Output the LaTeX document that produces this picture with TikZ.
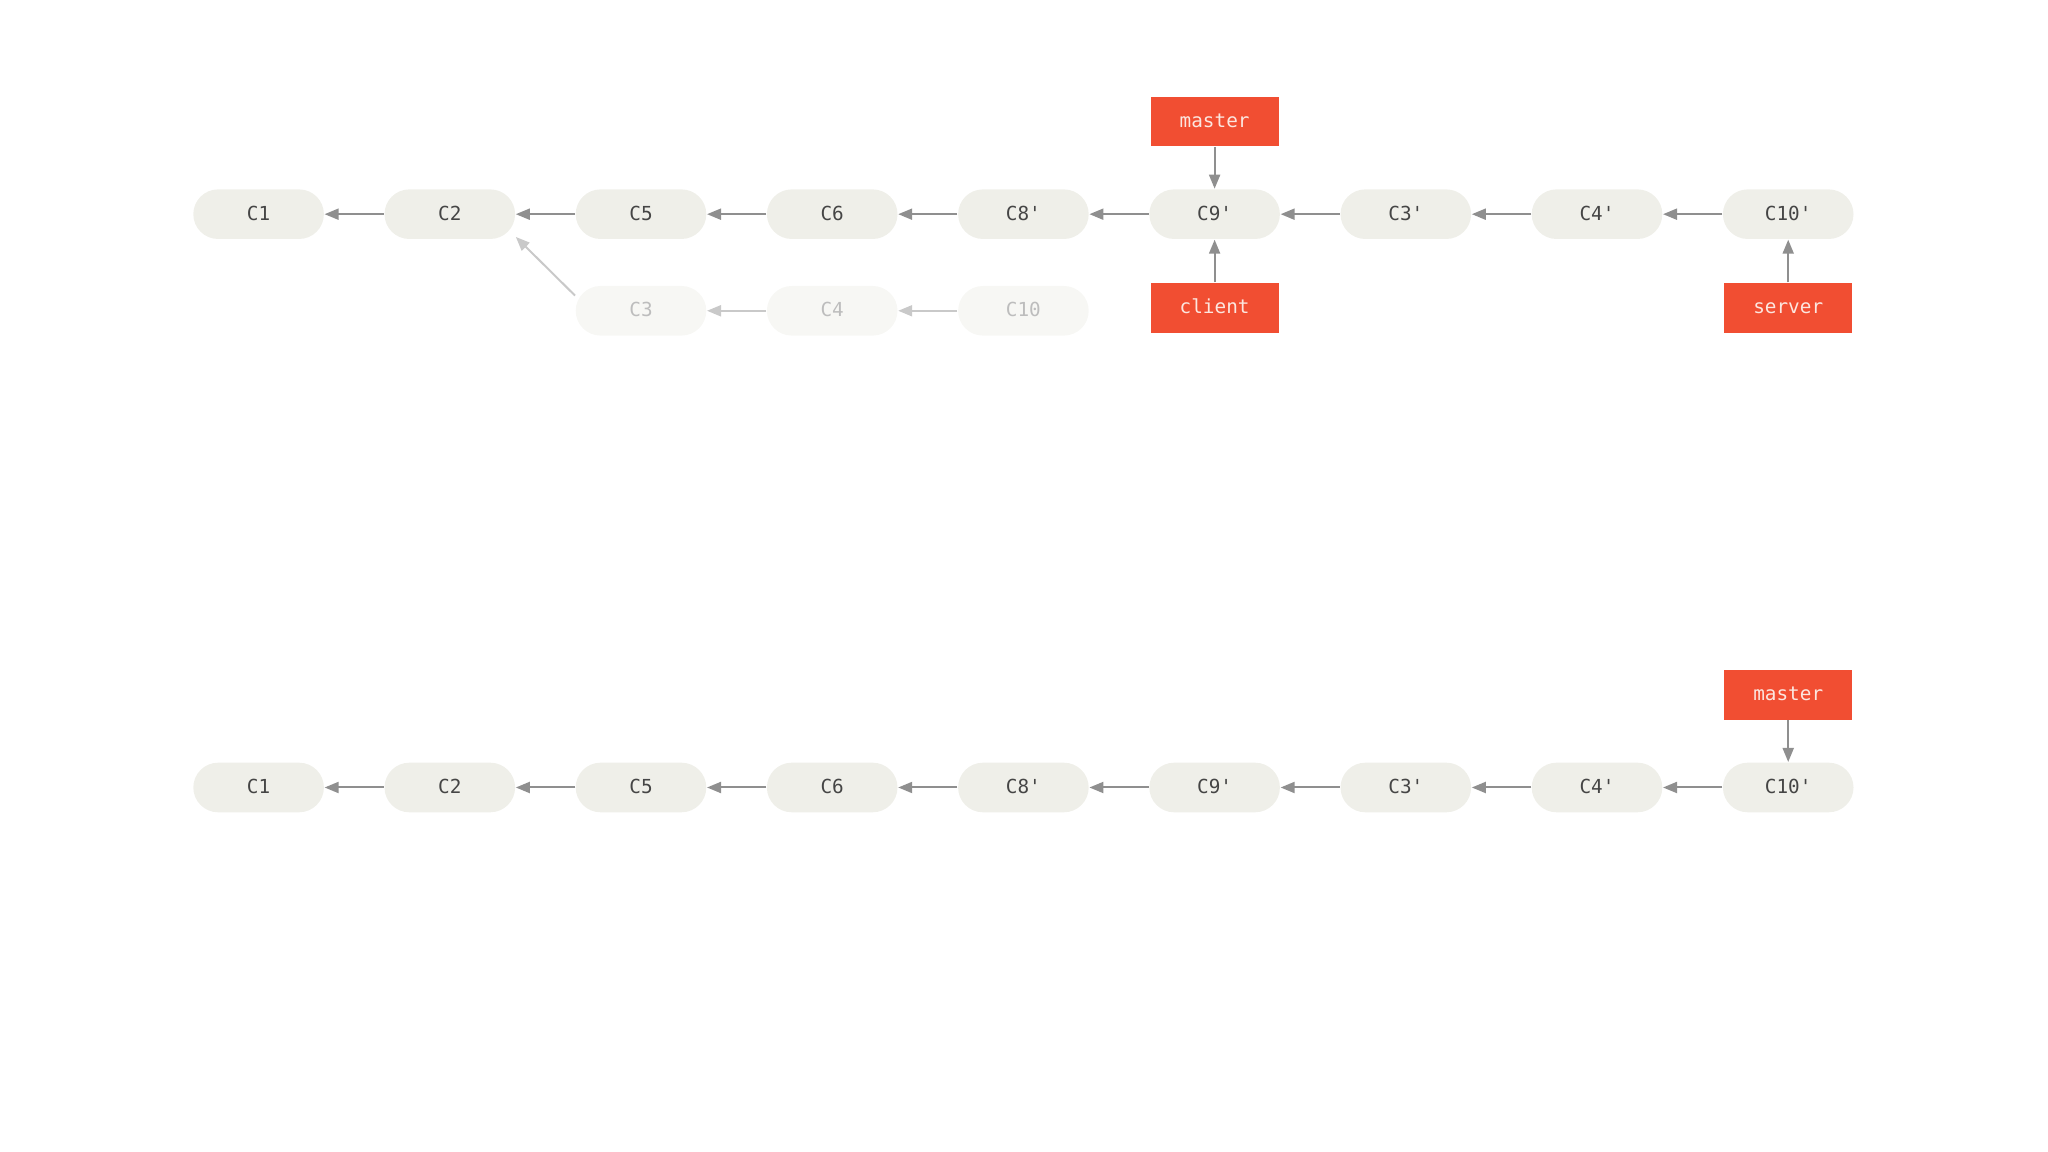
\documentclass[tikz,border=0pt]{standalone}
\usepackage{fontspec}
\setmonofont{DejaVu Sans Mono}
\usetikzlibrary{arrows.meta}

\definecolor{commitfill}{HTML}{EFEFE9}
\definecolor{fadedfill}{HTML}{F7F7F4}
\definecolor{committext}{HTML}{454545}
\definecolor{fadedtext}{HTML}{BDBDBD}
\definecolor{branchred}{HTML}{F14E32}
\definecolor{branchtext}{HTML}{FCE6DF}
\definecolor{arrowgray}{HTML}{8F8F8F}
\definecolor{fadedgray}{HTML}{C9C9C9}

\tikzset{
    commit/.style={fill=commitfill,text=committext,rounded corners=2.48mm,
        minimum width=13.06mm,minimum height=4.96mm,inner sep=0pt,
        text height=1.6mm,text depth=0.4mm,
        font=\ttfamily\fontsize{5.5}{6}\selectfont},
    faded/.style={commit,fill=fadedfill,text=fadedtext},
    branch/.style={fill=branchred,text=branchtext,minimum width=12.8mm,
        minimum height=4.96mm,inner sep=0pt,
        text height=1.6mm,text depth=0.4mm,
        font=\ttfamily\fontsize{5.5}{6}\selectfont},
    parent/.style={draw=arrowgray,line width=0.2mm,
        -{Triangle[length=1.4mm,width=1.1mm]}},
    fadedparent/.style={parent,draw=fadedgray}
}

\begin{document}
\begin{tikzpicture}[x=0.1mm,y=-0.1mm]
        \useasboundingbox (0,0) rectangle (2048,1152);

        % rebased history
        \node[commit] (c1) at (258.6,214.2) {C1};
        \node[commit] (c2) at (449.8,214.2) {C2};
        \node[commit] (c5) at (641,214.2) {C5};
        \node[commit] (c6) at (832.2,214.2) {C6};
        \node[commit] (c8p) at (1023.4,214.2) {C8'};
        \node[commit] (c9p) at (1214.6,214.2) {C9'};
        \node[commit] (c3p) at (1405.8,214.2) {C3'};
        \node[commit] (c4p) at (1597,214.2) {C4'};
        \node[commit] (c10p) at (1788.2,214.2) {C10'};

        % old commits
        \node[faded] (c3) at (641,310.8) {C3};
        \node[faded] (c4) at (832.2,310.8) {C4};
        \node[faded] (c10) at (1023.4,310.8) {C10};

        \node[branch] (master) at (1214.6,121.5) {master};
        \node[branch] (client) at (1214.6,308) {client};
        \node[branch] (server) at (1788.2,308) {server};

        \draw[parent] (c2) -- (c1);
        \draw[parent] (c5) -- (c2);
        \draw[parent] (c6) -- (c5);
        \draw[parent] (c8p) -- (c6);
        \draw[parent] (c9p) -- (c8p);
        \draw[parent] (c3p) -- (c9p);
        \draw[parent] (c4p) -- (c3p);
        \draw[parent] (c10p) -- (c4p);

        \draw[fadedparent] (c3.167) -- (c2.-19);
        \draw[fadedparent] (c4) -- (c3);
        \draw[fadedparent] (c10) -- (c4);

        \draw[parent] (master) -- (c9p);
        \draw[parent] (client) -- (c9p);
        \draw[parent] (server) -- (c10p);

        % after fast-forward of master
        \node[commit] (b1) at (258.6,787.5) {C1};
        \node[commit] (b2) at (449.8,787.5) {C2};
        \node[commit] (b5) at (641,787.5) {C5};
        \node[commit] (b6) at (832.2,787.5) {C6};
        \node[commit] (b8p) at (1023.4,787.5) {C8'};
        \node[commit] (b9p) at (1214.6,787.5) {C9'};
        \node[commit] (b3p) at (1405.8,787.5) {C3'};
        \node[commit] (b4p) at (1597,787.5) {C4'};
        \node[commit] (b10p) at (1788.2,787.5) {C10'};

        \node[branch] (newmaster) at (1788.2,694.8) {master};

        \draw[parent] (b2) -- (b1);
        \draw[parent] (b5) -- (b2);
        \draw[parent] (b6) -- (b5);
        \draw[parent] (b8p) -- (b6);
        \draw[parent] (b9p) -- (b8p);
        \draw[parent] (b3p) -- (b9p);
        \draw[parent] (b4p) -- (b3p);
        \draw[parent] (b10p) -- (b4p);

        \draw[parent] (newmaster) -- (b10p);
    \end{tikzpicture}
\end{document}
